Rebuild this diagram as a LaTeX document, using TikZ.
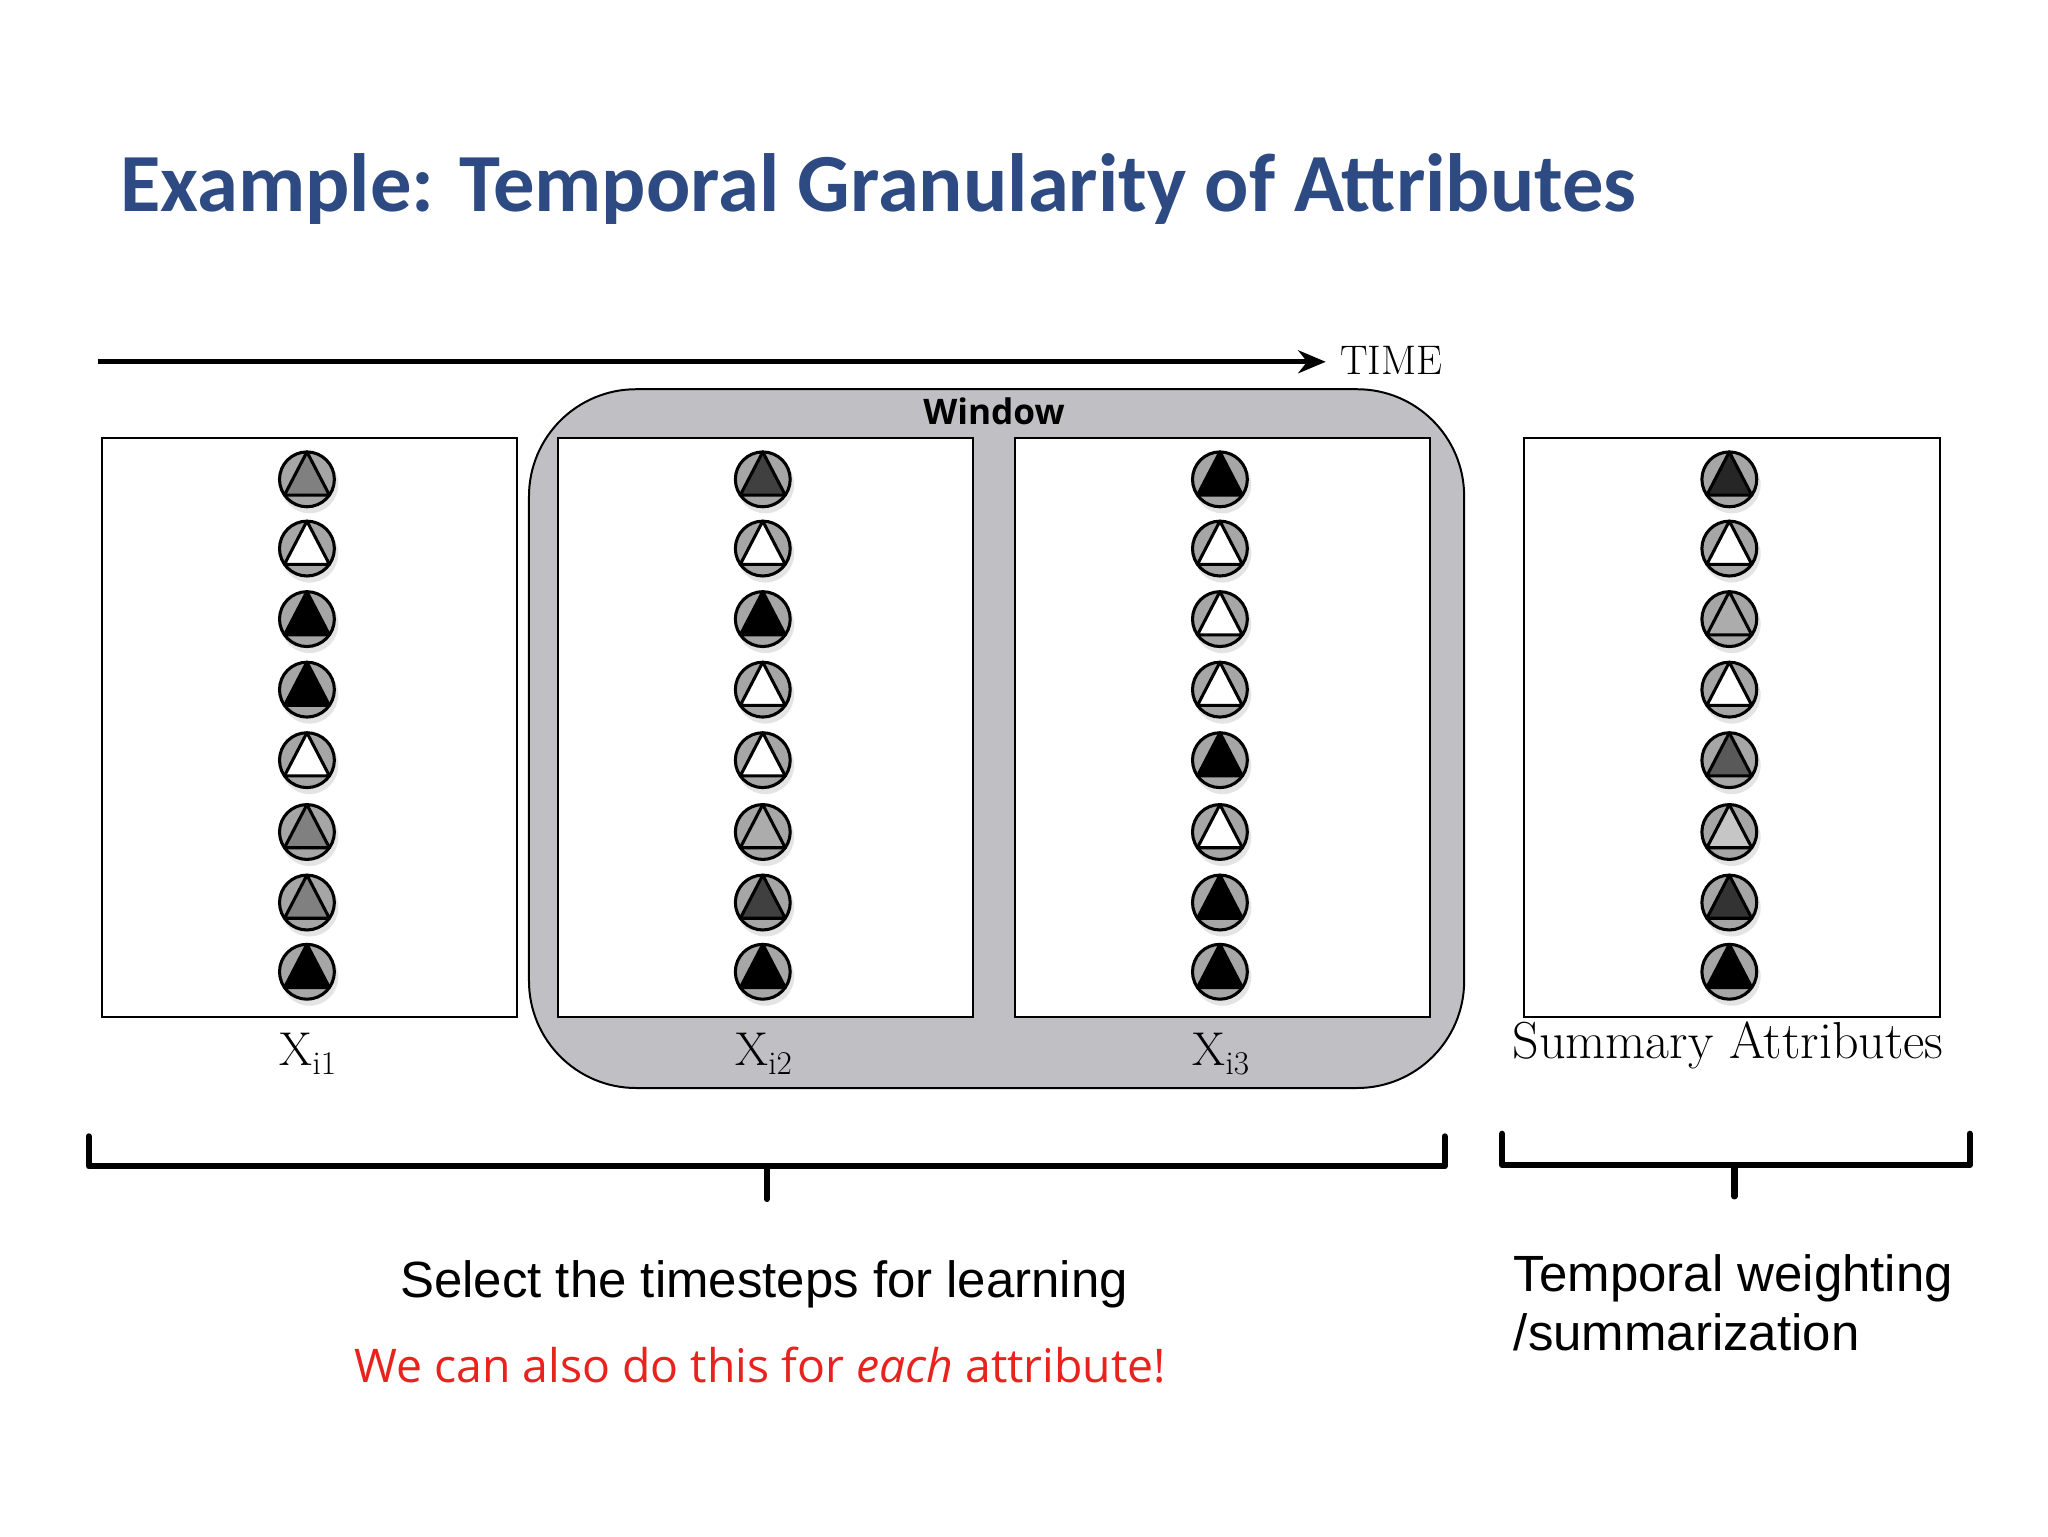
\documentclass[tikz,border=0pt]{standalone}
\usetikzlibrary{arrows.meta}
\usepackage{fontspec}
\newfontfamily\carlito{Carlito}
\newfontfamily\lsans{Liberation Sans}
\newfontfamily\opsans{Open Sans}
\definecolor{titleblue}{HTML}{2E4A82}
\definecolor{wingray}{HTML}{C0BFC4}
\definecolor{redtxt}{HTML}{E8231E}
\begin{document}
\begin{tikzpicture}[x=0.03cm,y=-0.03cm,
  panel/.style={draw,line width=1.3pt,fill=white},
  brace/.style={line width=4pt,line cap=round,line join=round}]
\useasboundingbox (0,0) rectangle (1568,1176);
\fill[white] (0,0) rectangle (1568,1176);
\node[anchor=west,font=\carlito\bfseries\fontsize{54}{60}\selectfont,text=titleblue] (title) at (88,145) {Example: Temporal Granularity of Attributes};
\coordinate (ts) at (75,277); \coordinate (te) at (1015,277);
\draw[line width=3.2pt,-{Stealth[length=18pt,width=15pt]}] (ts) -- (te);
\node[anchor=west,font=\fontsize{27}{30}\selectfont] (time) at (1022,276) {TIME};
\draw[fill=wingray,line width=1.3pt,rounded corners=70] (405,298) rectangle (1121,833);
\node[font=\opsans\bfseries\fontsize{23}{26}\selectfont] (win) at (761,315) {Window};
\foreach \x/\n in {78/a,427/b,777/c,1167/d}{
  \draw[panel] (\x,335) rectangle ++(318,444);
}
\newcommand\icon[3]{%
  \begin{scope}[shift={(#1,#2)}]
   \fill[gray!35,opacity=0.6] (2,4) circle (22);
   \draw[fill=gray!70,line width=2pt] (0,0) circle (21);
   \draw[fill=#3,line width=2pt,line join=round] (270:21) -- (145:21) -- (35:21) -- cycle;
  \end{scope}}
\def\ys{367,420,474,528,582,637,691,744}
\foreach \x/\fills in {235/{gray,white,black,black,white,gray,gray,black},
  584/{black!75,white,black,white,white,gray!65,black!75,black},
  934/{black,white,white,white,black,white,black,black},
  1324/{black!85,white,gray!65,white,black!65,gray!45,black!80,black}}{
  \foreach \y [count=\i] in \ys {
    \foreach \f [count=\j] in \fills { \ifnum\i=\j \icon{\x}{\y}{\f}\fi }
  }
}
\tikzset{lab/.style={font=\fontsize{31}{34}\selectfont}}
\node[lab] (x1) at (236,807) {X$_{\mathrm{i1}}$};
\node[lab] (x2) at (585,807) {X$_{\mathrm{i2}}$};
\node[lab] (x3) at (935,807) {X$_{\mathrm{i3}}$};
\node[font=\fontsize{34}{38}\selectfont] (sum) at (1323,800) {Summary Attributes};
\draw[brace] (68,870) -- (68,893) -- (1106,893) -- (1106,870);
\draw[brace] (587,893) -- (587,918);
\draw[brace] (1150,868) -- (1150,892) -- (1508,892) -- (1508,868);
\draw[brace] (1328,892) -- (1328,916);
\node[font=\lsans\fontsize{33.3}{38}\selectfont] (sel) at (585,983) {Select the timesteps for learning};
\node[font=\opsans\fontsize{30.3}{34}\selectfont,text=redtxt] (also) at (582,1045) {We can also do this for \textit{each} attribute!};
\node[anchor=north west,align=left,font=\lsans\fontsize{33.3}{39}\selectfont] (tw) at (1155,956) {Temporal weighting\\/summarization};
\end{tikzpicture}
\end{document}
